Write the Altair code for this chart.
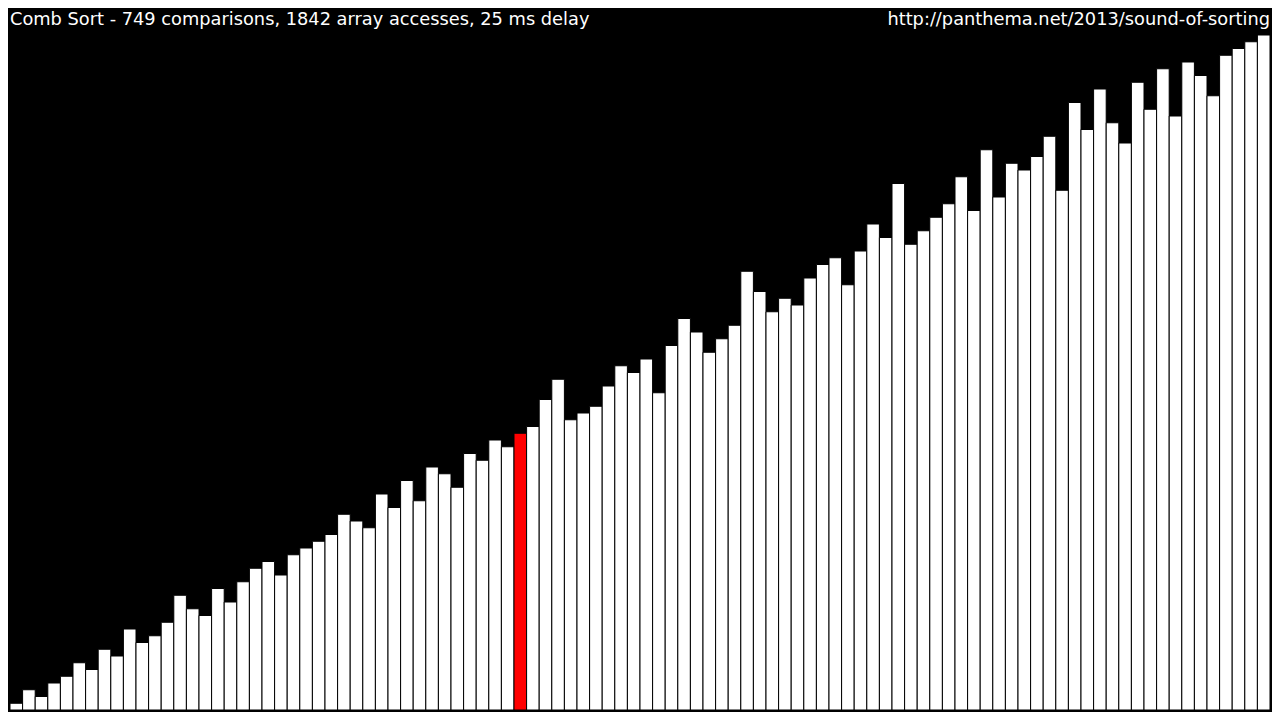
import altair as alt
import pandas as pd

values = [1, 3, 2, 4, 5, 7, 6, 9, 8, 12, 10, 11, 13, 17, 15, 14, 18, 16, 19, 21,
          22, 20, 23, 24, 25, 26, 29, 28, 27, 32, 30, 34, 31, 36, 35, 33, 38, 37, 40, 39,
          41, 42, 46, 49, 43, 44, 45, 48, 51, 50, 52, 47, 54, 58, 56, 53, 55, 57, 65, 62,
          59, 61, 60, 64, 66, 67, 63, 68, 72, 70, 78, 69, 71, 73, 75, 79, 74, 83, 76, 81,
          80, 82, 85, 77, 90, 86, 92, 87, 84, 93, 89, 95, 88, 96, 94, 91, 97, 98, 99, 100]
highlight_index = 40
title_left = "Comb Sort - 749 comparisons, 1842 array accesses, 25 ms delay"
title_right = "http://panthema.net/2013/sound-of-sorting"

df = pd.DataFrame({
    "idx": list(range(len(values))),
    "value": values,
    "state": ["active" if i == highlight_index else "normal" for i in range(len(values))],
})

bars = alt.Chart(df).mark_bar(stroke="black", strokeWidth=1).encode(
    x=alt.X("idx:O", axis=None, scale=alt.Scale(paddingInner=0, paddingOuter=0)),
    y=alt.Y("value:Q", axis=None, scale=alt.Scale(domain=[0, 104], nice=False, zero=True)),
    color=alt.Color("state:N", legend=None,
                    scale=alt.Scale(domain=["normal", "active"], range=["white", "#ff0000"])),
)

left_text = alt.Chart(pd.DataFrame({"t": [title_left]})).mark_text(
    align="left", baseline="alphabetic", font="DejaVu Sans", fontSize=17.8, color="white"
).encode(text="t:N", x=alt.value(0), y=alt.value(17))

right_text = alt.Chart(pd.DataFrame({"t": [title_right]})).mark_text(
    align="right", baseline="alphabetic", font="DejaVu Sans", fontSize=17.8, color="white"
).encode(text="t:N", x=alt.value(1260), y=alt.value(17))

chart = alt.layer(bars, left_text, right_text).properties(
    width=1260, height=702,
    padding={"left": 2, "right": 2, "top": 0, "bottom": 2},
    autosize="none",
    background="black",
).configure_view(stroke=None, fill="black")

chart.save("out.html", embed_options={"renderer": "svg", "actions": False})
